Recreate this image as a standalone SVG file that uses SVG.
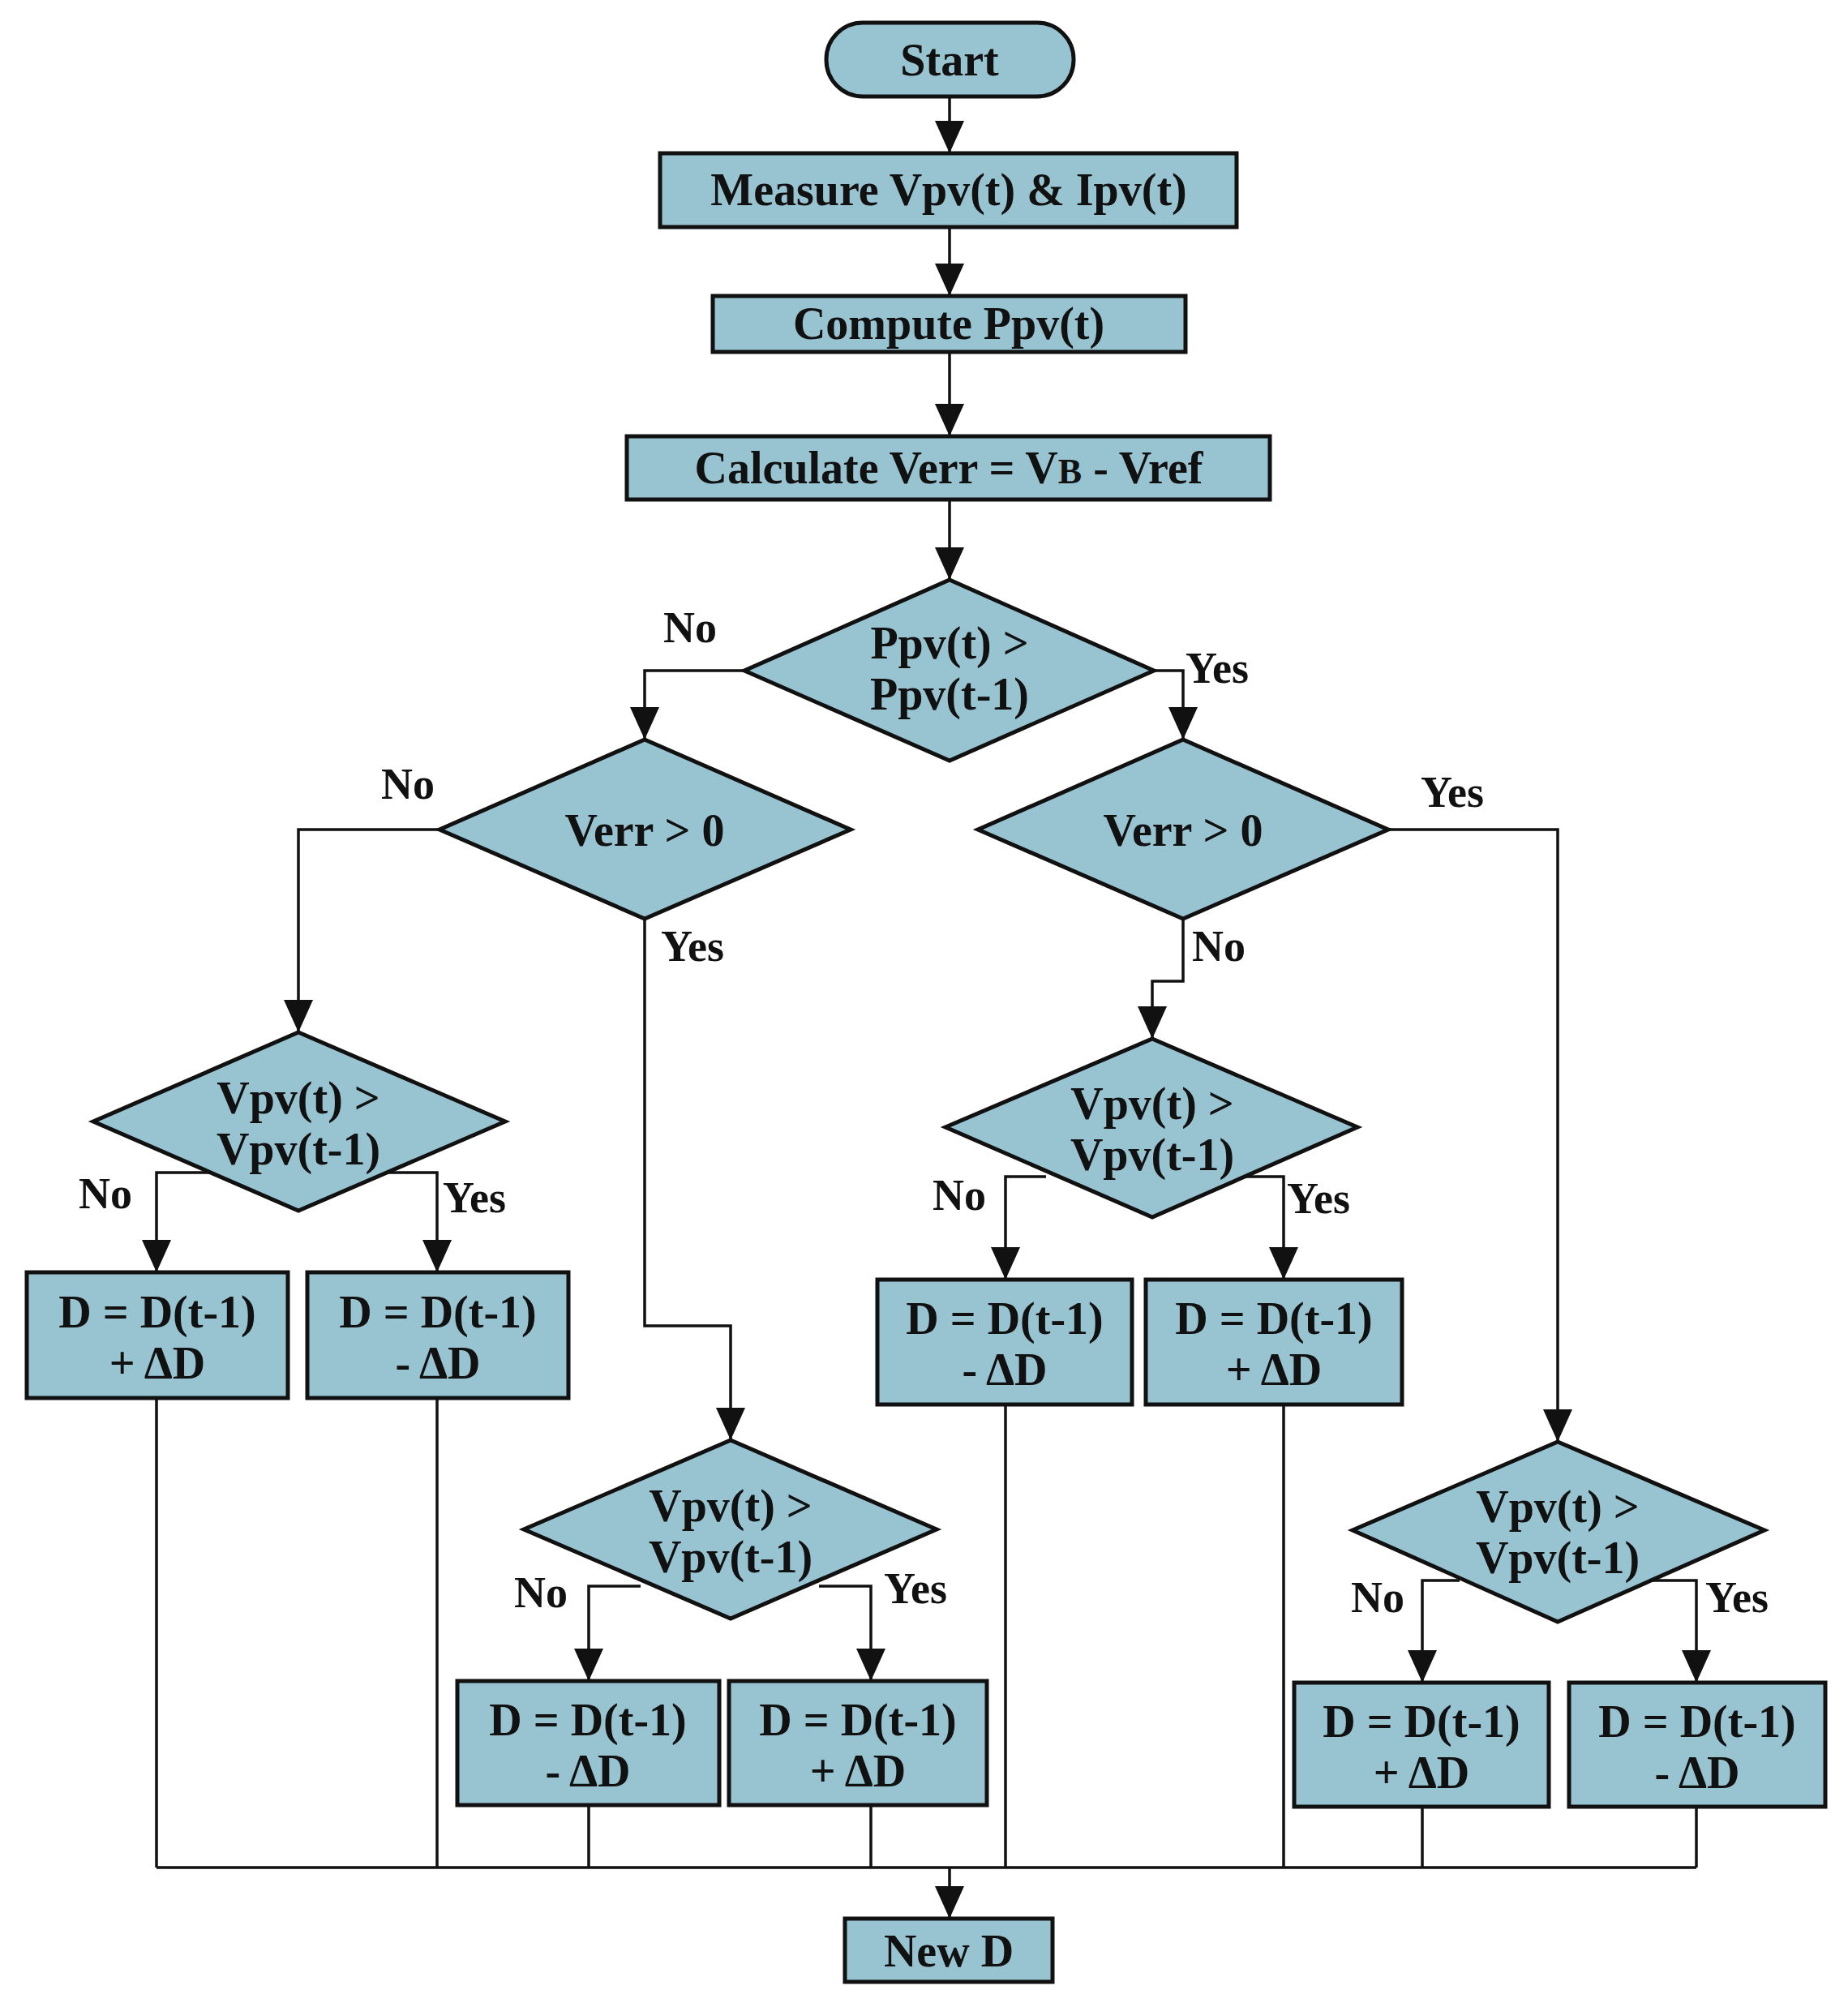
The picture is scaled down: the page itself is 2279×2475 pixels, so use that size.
<svg xmlns="http://www.w3.org/2000/svg" width="2279" height="2475" viewBox="0 0 2279 2475">
<style>
.n{fill:#98c3d1;stroke:#111;stroke-width:5}
.t{font-family:"Liberation Serif",serif;font-weight:bold;font-size:56px;fill:#111;text-anchor:middle}
.l{font-family:"Liberation Serif",serif;font-weight:bold;font-size:54px;fill:#111}
.c{fill:none;stroke:#111;stroke-width:3.5}
</style>
<defs><marker id="a" markerWidth="12" markerHeight="12" refX="11" refY="6" orient="auto" markerUnits="userSpaceOnUse" viewBox="0 0 12 12"><path d="M0,0L12,6L0,12z" fill="#111" transform="scale(1)"/></marker>
<marker id="b" viewBox="0 0 40 36" markerWidth="40" markerHeight="36" refX="40" refY="18" orient="auto" markerUnits="userSpaceOnUse"><path d="M0,0L40,18L0,36z" fill="#111"/></marker></defs>
<rect width="2279" height="2475" fill="#fff"/>
<g id="connectors" class="c">
<path d="M1171,119V189" marker-end="url(#b)"/>
<path d="M1171,280V365" marker-end="url(#b)"/>
<path d="M1171,434V538" marker-end="url(#b)"/>
<path d="M1171,616V715" marker-end="url(#b)"/>
<path d="M918,827H795V912" marker-end="url(#b)"/>
<path d="M1423,827H1459V912" marker-end="url(#b)"/>
<path d="M542,1023H368V1273" marker-end="url(#b)"/>
<path d="M795,1133V1635H901V1776" marker-end="url(#b)"/>
<path d="M1459,1133V1210H1421V1281" marker-end="url(#b)"/>
<path d="M1712,1023H1921V1778" marker-end="url(#b)"/>
<path d="M260,1446H193V1569" marker-end="url(#b)"/>
<path d="M476,1446H539V1569" marker-end="url(#b)"/>
<path d="M790,1956H726V2073" marker-end="url(#b)"/>
<path d="M1010,1956H1074V2073" marker-end="url(#b)"/>
<path d="M1290,1451H1240V1578" marker-end="url(#b)"/>
<path d="M1520,1451H1583V1578" marker-end="url(#b)"/>
<path d="M1800,1949H1754V2075" marker-end="url(#b)"/>
<path d="M2030,1949H2092V2075" marker-end="url(#b)"/>
<path d="M193,1724V2303M539,1724V2303M726,2226V2303M1074,2226V2303M1240,1732V2303M1583,1732V2303M1754,2228V2303M2092,2228V2303M193,2303H2092"/>
<path d="M1171,2303V2366" marker-end="url(#b)"/>
</g>
<g id="start"><rect class="n" x="1019" y="28" width="305" height="91" rx="45"/><text class="t" x="1171" y="93">Start</text></g>
<g id="measure"><rect class="n" x="814" y="189" width="711" height="91"/><text class="t" x="1170" y="253">Measure Vpv(t) &amp; Ipv(t)</text></g>
<g id="compute"><rect class="n" x="879" y="365" width="583" height="69"/><text class="t" x="1170" y="418">Compute Ppv(t)</text></g>
<g id="calc"><rect class="n" x="773" y="538" width="793" height="78"/><text class="t" x="1170" y="596">Calculate Verr = V<tspan font-size="44">B</tspan> - Vref</text></g>
<g id="d1"><path class="n" d="M1171,715L1423,827L1171,938L918,827z"/><text class="t" x="1171" y="812">Ppv(t) &gt;</text><text class="t" x="1171" y="875">Ppv(t-1)</text></g>
<g id="dL"><path class="n" d="M795,912L1049,1023L795,1133L542,1023z"/><text class="t" x="795" y="1043">Verr &gt; 0</text></g>
<g id="dR"><path class="n" d="M1459,912L1712,1023L1459,1133L1206,1023z"/><text class="t" x="1459" y="1043">Verr &gt; 0</text></g>
<g id="dLL"><path class="n" d="M368,1273L623,1383L368,1493L115,1383z"/><text class="t" x="368" y="1373">Vpv(t) &gt;</text><text class="t" x="368" y="1436">Vpv(t-1)</text></g>
<g id="dLM"><path class="n" d="M901,1776L1155,1886L901,1996L646,1886z"/><text class="t" x="901" y="1876">Vpv(t) &gt;</text><text class="t" x="901" y="1939">Vpv(t-1)</text></g>
<g id="dRM"><path class="n" d="M1421,1281L1674,1390L1421,1501L1166,1390z"/><text class="t" x="1421" y="1380">Vpv(t) &gt;</text><text class="t" x="1421" y="1443">Vpv(t-1)</text></g>
<g id="dRR"><path class="n" d="M1921,1778L2176,1887L1921,2000L1668,1887z"/><text class="t" x="1921" y="1877">Vpv(t) &gt;</text><text class="t" x="1921" y="1940">Vpv(t-1)</text></g>
<g id="b1"><rect class="n" x="33" y="1569" width="322" height="155"/><text class="t" x="194" y="1637">D = D(t-1)</text><text class="t" x="194" y="1700">+ ΔD</text></g>
<g id="b2"><rect class="n" x="379" y="1569" width="322" height="155"/><text class="t" x="540" y="1637">D = D(t-1)</text><text class="t" x="540" y="1700">- ΔD</text></g>
<g id="b3"><rect class="n" x="564" y="2073" width="323" height="153"/><text class="t" x="725" y="2140">D = D(t-1)</text><text class="t" x="725" y="2203">- ΔD</text></g>
<g id="b4"><rect class="n" x="899" y="2073" width="318" height="153"/><text class="t" x="1058" y="2140">D = D(t-1)</text><text class="t" x="1058" y="2203">+ ΔD</text></g>
<g id="b5"><rect class="n" x="1082" y="1578" width="314" height="154"/><text class="t" x="1239" y="1645">D = D(t-1)</text><text class="t" x="1239" y="1708">- ΔD</text></g>
<g id="b6"><rect class="n" x="1413" y="1578" width="316" height="154"/><text class="t" x="1571" y="1645">D = D(t-1)</text><text class="t" x="1571" y="1708">+ ΔD</text></g>
<g id="b7"><rect class="n" x="1596" y="2075" width="314" height="153"/><text class="t" x="1753" y="2142">D = D(t-1)</text><text class="t" x="1753" y="2205">+ ΔD</text></g>
<g id="b8"><rect class="n" x="1935" y="2075" width="316" height="153"/><text class="t" x="2093" y="2142">D = D(t-1)</text><text class="t" x="2093" y="2205">- ΔD</text></g>
<g id="newd"><rect class="n" x="1042" y="2366" width="256" height="78"/><text class="t" x="1170" y="2425">New D</text></g>
<g id="labels" class="l">
<text x="818" y="792">No</text><text x="1462" y="842">Yes</text>
<text x="470" y="985">No</text><text x="1752" y="995">Yes</text>
<text x="815" y="1185">Yes</text><text x="1470" y="1185">No</text>
<text x="97" y="1490">No</text><text x="546" y="1495">Yes</text>
<text x="634" y="1982">No</text><text x="1090" y="1977">Yes</text>
<text x="1150" y="1492">No</text><text x="1587" y="1496">Yes</text>
<text x="1666" y="1988">No</text><text x="2103" y="1988">Yes</text>
</g>
</svg>
